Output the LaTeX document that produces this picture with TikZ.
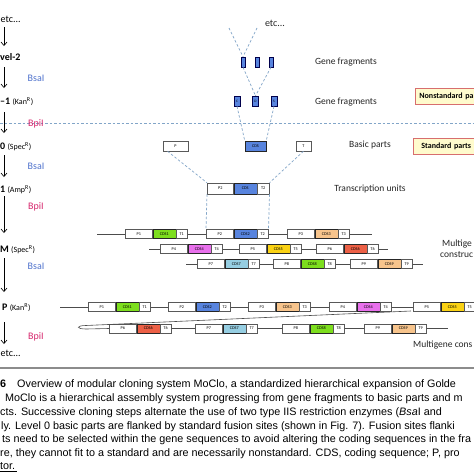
\documentclass[tikz,border=0pt]{standalone}
\usepackage{fontspec}
\setmainfont{Carlito}
\newfontfamily\capfont{Liberation Sans}
\usetikzlibrary{arrows.meta}
\definecolor{cdsblue}{RGB}{88,132,222}
\definecolor{cdsgreen}{RGB}{125,222,30}
\definecolor{cdspeach}{RGB}{247,196,140}
\definecolor{cdsmag}{RGB}{232,112,236}
\definecolor{cdsyel}{RGB}{250,210,20}
\definecolor{cdsred}{RGB}{236,96,70}
\definecolor{cdslblue}{RGB}{150,206,226}
\definecolor{dashblue}{RGB}{130,165,200}
\definecolor{bsa}{RGB}{80,115,205}
\definecolor{bpi}{RGB}{215,40,110}
\definecolor{partfill}{RGB}{255,251,205}
\definecolor{partdraw}{RGB}{215,110,110}
\tikzset{
  pbox/.style={draw=black!65, fill=white, line width=0.5pt, minimum height=9pt,
    inner sep=0pt, font=\fontsize{4.2}{4.5}\selectfont, anchor=west},
  cbox/.style={pbox, draw=black!85},
  bb/.style={line width=0.6pt, black!70},
  dsh/.style={dashblue, dash pattern=on 2.5pt off 2pt, line width=0.7pt},
  lab/.style={font=\fontsize{9.5}{10}\selectfont, text=black!85, inner sep=0pt},
  lvl/.style={font=\bfseries\fontsize{10}{11}\selectfont, anchor=base west, inner sep=0pt},
  enz/.style={font=\fontsize{10}{11}\selectfont, inner sep=0pt},
  larr/.style={-{Straight Barb[length=3.5pt,width=6pt]}, line width=0.6pt},
  captxt/.style={font=\capfont\fontsize{10.8}{12}\selectfont, anchor=base west, inner sep=0pt},
  frag/.style={draw=black!70!blue, fill=cdsblue, line width=0.5pt, minimum width=4pt,
    minimum height=10pt, inner sep=0pt, font=\fontsize{3.5}{4}\selectfont},
  partbox/.style={draw=partdraw, fill=partfill, line width=0.8pt, minimum height=16pt,
    anchor=west, align=left, inner sep=2pt, font=\bfseries\fontsize{8}{9}\selectfont},
}
\newcommand{\mcunit}[5]{%
  \node[pbox, minimum width=27pt] (#1p) at (#2,#3) {P#4};
  \node[cbox, fill=#5, minimum width=23pt] (#1c) at (#1p.east) {CDS#4};
  \node[pbox, minimum width=11pt] (#1t) at (#1c.east) {T#4};
}
\newcommand{\smallR}{\mdseries\fontsize{8}{9}\selectfont}
\begin{document}
\begin{tikzpicture}[x=1pt,y=-1pt]
\useasboundingbox[fill=white] (0,0) rectangle (474,474);

% ---------- left column ----------
\node[lvl] (lvm2) at (0,60) {vel-2};
\node[lvl] (lvm1) at (0,104) {--1 {\smallR(Kan\textsuperscript{R})}};
\node[lvl] (lv0) at (0,149) {0 {\smallR(Spec\textsuperscript{R})}};
\node[lvl] (lv1) at (0,192) {1 {\smallR(Amp\textsuperscript{R})}};
\node[lvl] (lvM) at (0,252) {M {\smallR(Spec\textsuperscript{R})}};
\node[lvl] (lvP) at (2,310) {P {\smallR(Kan\textsuperscript{R})}};
\node[lvl, font=\fontsize{10}{11}\selectfont] (etcL) at (0.5,356) {etc...};
\node[lvl, font=\fontsize{10}{11}\selectfont] (etcT) at (0.5,22) {etc...};

\coordinate (a1s) at (4,27);  \coordinate (a1e) at (4,46);
\coordinate (a2s) at (4,67);  \coordinate (a2e) at (4,88);
\coordinate (a3s) at (4,112); \coordinate (a3e) at (4,133);
\coordinate (a4s) at (4,155); \coordinate (a4e) at (4,177);
\coordinate (a5s) at (4,196); \coordinate (a5e) at (4,233);
\coordinate (a6s) at (4,258); \coordinate (a6e) at (4,292);
\coordinate (a7s) at (4,322); \coordinate (a7e) at (4,344);
\foreach \i in {1,...,7} {\draw[larr] (a\i s) -- (a\i e);}

% horizontal dashed separator
\coordinate (sepL) at (0,123); \coordinate (sepR) at (474,123);
\draw[dsh] (sepL) -- (sepR);

\node[enz, text=bsa] (e1) at (36,78) {BsaI};
\node[enz, text=bpi] (e2) at (36,124) {BpiI};
\node[enz, text=bsa] (e3) at (36,166) {BsaI};
\node[enz, text=bpi] (e4) at (36,207) {BpiI};
\node[enz, text=bsa] (e5) at (36,266) {BsaI};
\node[enz, text=bpi] (e6) at (36,337) {BpiI};

% ---------- top: fragments ----------
\node[lab, font=\fontsize{10}{11}\selectfont] (etcR) at (275,23) {etc...};
\coordinate (v1) at (229,28); \coordinate (v2) at (257,28);
\node[frag] (f1) at (243,62) {};
\node[frag] (f2) at (257,62) {};
\node[frag] (f3) at (271,62) {};
\node[frag, minimum width=6pt] (gC) at (237,101) {C};
\node[frag, minimum width=6pt] (gD) at (255.5,101) {D};
\node[frag, minimum width=6pt] (gS) at (274,101) {S};
\draw[dsh] (v1) -- (f1.north) (v2) -- (f1.north);
\draw[dsh] (f1.south) -- (gD.north) (f3.south) -- (gD.north);

\node[lab] (gf1) at (346,62) {Gene fragments};
\node[lab] (gf2) at (346,102) {Gene fragments};
\node[partbox, minimum width=70pt, text width=62pt] (nonstd) at (415,96) {Nonstandard pa};
\node[partbox, minimum width=70pt, text width=62pt, inner sep=0pt, inner xsep=8pt] (std) at (413,146.5) {Standard parts};

% ---------- basic parts ----------
\node[pbox, minimum width=25pt, minimum height=10pt, anchor=center] (bp) at (175.5,146) {P};
\node[cbox, fill=cdsblue, minimum width=21pt, minimum height=10pt, anchor=center] (bc) at (255.5,146) {CDS};
\node[pbox, minimum width=15pt, minimum height=10pt, anchor=center] (bt) at (303.5,146) {T};
\draw[dsh] (gC.south) -- (bc.north west) (gS.south) -- (bc.north east);
\node[lab] (basic) at (370,145) {Basic parts};

% ---------- transcription unit ----------
\node[pbox, minimum width=26pt, minimum height=11pt] (tup) at (207,188.5) {P2};
\node[cbox, fill=cdsblue, minimum width=23pt, minimum height=11pt] (tuc) at (tup.east) {CDS};
\node[pbox, minimum width=12pt, minimum height=11pt] (tut) at (tuc.east) {T2};
\draw[dsh] ([xshift=-8pt]bp.south) -- (tup.north west) (bt.south) -- (tut.north east);
\node[lab] (tul) at (370,189) {Transcription units};

% ---------- Level M rows ----------
\mcunit{ra}{125}{234}{1}{cdsgreen}
\mcunit{rb}{206}{234}{2}{cdsblue}
\mcunit{rc}{287}{234}{3}{cdspeach}
\coordinate (r1s) at (97,234); \coordinate (r1e) at (372,234);
\draw[bb] (r1s) -- (rap.west) (rat.east) -- (rbp.west) (rbt.east) -- (rcp.west) (rct.east) -- (r1e);
\draw[dsh] (tup.south west) -- (rbp.north west) (tut.south east) -- (rbt.north east);

\mcunit{rd}{160}{249}{4}{cdsmag}
\mcunit{re}{239}{249}{5}{cdsyel}
\mcunit{rf}{316}{249}{6}{cdsred}
\coordinate (r2s) at (149,249); \coordinate (r2e) at (388,249);
\draw[bb] (r2s) -- (rdp.west) (rdt.east) -- (rep.west) (ret.east) -- (rfp.west) (rft.east) -- (r2e);

\mcunit{rg}{197}{264}{7}{cdslblue}
\mcunit{rh}{273}{264}{8}{cdsgreen}
\mcunit{ri}{350}{264}{9}{cdspeach}
\coordinate (r3s) at (186,264); \coordinate (r3e) at (423,264);
\draw[bb] (r3s) -- (rgp.west) (rgt.east) -- (rhp.west) (rht.east) -- (rip.west) (rit.east) -- (r3e);

\node[lab, anchor=west] (mg1a) at (442,244) {Multige};
\node[lab, anchor=west] (mg1b) at (440,254.5) {construc};

% ---------- Level P ----------
\mcunit{pa}{88}{307}{1}{cdsgreen}
\mcunit{pb}{168}{307}{2}{cdsblue}
\mcunit{pc}{248}{307}{3}{cdspeach}
\mcunit{pd}{329}{307}{4}{cdsmag}
\mcunit{pe}{413}{307}{5}{cdsyel}
\coordinate (pAs) at (60,307); \coordinate (pAe) at (480,307);
\draw[bb] (pAs) -- (pap.west) (pat.east) -- (pbp.west) (pbt.east) -- (pcp.west) (pct.east) -- (pdp.west) (pdt.east) -- (pep.west) (pet.east) -- (pAe);

\mcunit{pf}{109}{328.5}{6}{cdsred}
\mcunit{pg}{195}{328.5}{7}{cdslblue}
\mcunit{ph}{282}{328.5}{8}{cdsgreen}
\mcunit{pi}{364}{328.5}{9}{cdspeach}
\coordinate (pBe) at (448,328.5);
\coordinate (wrap) at (411,311);
\coordinate (tipU) at (86,325.5);
\coordinate (tipL) at (86,329);
\draw[bb] (wrap) -- (tipU) .. controls (76,325.5) and (76,329) .. (tipL) -- (pfp.west);
\draw[bb] (pft.east) -- (pgp.west) (pgt.east) -- (php.west) (pht.east) -- (pip.west) (pit.east) -- (pBe);
\node[lab, anchor=west] (mg2) at (413,345) {Multigene cons};

% ---------- caption ----------
\coordinate (ruleL) at (0,368); \coordinate (ruleR) at (474,368);
\draw[line width=2.2pt, black!45] (ruleL) -- (ruleR);
\node[captxt, font=\capfont\bfseries\fontsize{10.8}{12}\selectfont] (c0) at (0,387) {6};
\node[captxt] (c1) at (17,387) {Overview of modular cloning system MoClo, a standardized hierarchical expansion of Golde};
\node[captxt] (c2) at (5,401) {MoClo is a hierarchical assembly system progressing from gene fragments to basic parts and m};
\node[captxt] (c3) at (0,415) {cts. Successive cloning steps alternate the use of two type IIS restriction enzymes (\textit{Bsa}I and};
\node[captxt] (c4) at (1,429) {ly. Level 0 basic parts are flanked by standard fusion sites (shown in Fig. 7). Fusion sites flanki};
\node[captxt] (c5) at (2,442) {ts need to be selected within the gene sequences to avoid altering the coding sequences in the fra};
\node[captxt] (c6) at (0,456) {re, they cannot fit to a standard and are necessarily nonstandard. CDS, coding sequence; P, pro};
\node[captxt] (c7) at (0,469) {tor.};
\coordinate (ulL) at (0,471.5); \coordinate (ulR) at (17,471.5);
\draw[line width=1.8pt] (ulL) -- (ulR);
\end{tikzpicture}
\end{document}
